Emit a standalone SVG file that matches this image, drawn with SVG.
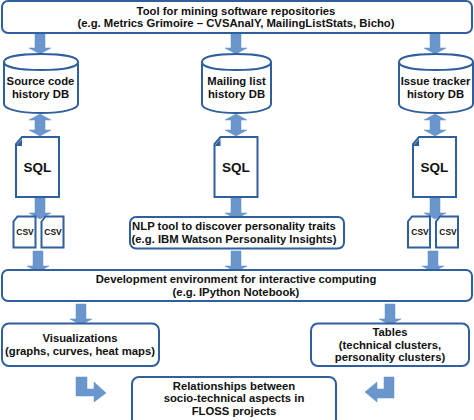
<svg xmlns="http://www.w3.org/2000/svg" width="474" height="420" viewBox="0 0 474 420">
<style>
.n{fill:#fff;stroke:#2f5f9e;stroke-width:2}
.l{fill:none;stroke:#2f5f9e;stroke-width:2}
.a{fill:#6a96cd;stroke:#5f8cc4;stroke-width:.5}
.f{fill:#2f5f9e}
text{font-family:"Liberation Sans",Arial,sans-serif;font-weight:bold;font-size:11.3px;fill:#111;text-anchor:middle}
.s{font-size:13.5px}
.c{font-size:8.5px}
</style>
<defs>
<path id="down" d="M-5 0H5V15H11L0 21L-11 15H-5Z"/>
<path id="dbl" d="M0 0L11 6H5V16H11L0 22L-11 16H-5V6H-11Z"/>
<path id="doc" d="M6 0H43V60H0V7Z"/>
<path id="csv" d="M4 0H22V31H0V5Z"/>
<path id="cyl" d="M0 8C0 3 15 0 37 0S74 3 74 8V50C74 55 59 59 37 59S0 55 0 50Z"/>
</defs>
<g id="connectors" class="a">
<use href="#down" x="40" y="33"/>
<use href="#down" x="236" y="33"/>
<use href="#down" x="435" y="33"/>
<use href="#dbl" x="40" y="114"/>
<use href="#dbl" x="236" y="114"/>
<use href="#dbl" x="435" y="114"/>
<use href="#down" x="40" y="198"/>
<use href="#down" x="236" y="198"/>
<use href="#down" x="435" y="198"/>
<use href="#down" x="38" y="251"/>
<use href="#down" x="236" y="251"/>
<use href="#down" x="433" y="251"/>
<use href="#down" x="81" y="304"/>
<use href="#down" x="390" y="304"/>
<path d="M76 377H87V389H94V382L106 393L94 402V396H76Z"/>
<path d="M394 377H384V389H377V382L365 392L377 402V398H394Z"/>
</g>
<g id="mining"><rect class="n" x="2" y="1" width="470" height="32" rx="6"/><text x="236" y="14.500">Tool for mining software repositories</text><text x="236" y="27">(e.g. Metrics Grimoire – CVSAnalY, MailingListStats, Bicho)</text></g>
<g id="db-source"><use class="n" href="#cyl" x="4" y="54"/><path class="l" d="M4 62C4 67 19 70 41 70S78 67 78 62"/><text x="40.500" y="85">Source code</text><text x="40.500" y="97.500">history DB</text></g>
<g id="db-mailing"><path class="n" d="M202 62C202 57 215 54 236.500 54S271 57 271 62V104C271 109 258 113 236.500 113S202 109 202 104Z"/><path class="l" d="M202 62C202 67 215 70 236.500 70S271 67 271 62"/><text x="236.500" y="85">Mailing list</text><text x="236.500" y="97.500">history DB</text></g>
<g id="db-issue"><use class="n" href="#cyl" x="399" y="54"/><path class="l" d="M399 62C399 67 414 70 436 70S473 67 473 62"/><text x="435.500" y="85">Issue tracker</text><text x="435.500" y="97.500">history DB</text></g>
<g id="sql-1"><use class="n" href="#doc" x="16" y="137"/><path class="f" d="M16 146L22 139V146Z"/><text class="s" x="37.500" y="172">SQL</text></g>
<g id="sql-2"><use class="n" href="#doc" x="214.500" y="137"/><path class="f" d="M214.500 146L220.500 139V146Z"/><text class="s" x="236" y="172">SQL</text></g>
<g id="sql-3"><use class="n" href="#doc" x="413" y="137"/><path class="f" d="M413 146L419 139V146Z"/><text class="s" x="434.500" y="172">SQL</text></g>
<g id="csv-1"><use class="n" href="#csv" x="13.500" y="216.500"/><text class="c" x="25" y="235">CSV</text></g>
<g id="csv-2"><use class="n" href="#csv" x="41.500" y="216.500"/><text class="c" x="53" y="235">CSV</text></g>
<g id="csv-3"><use class="n" href="#csv" x="408" y="216.500"/><text class="c" x="420" y="235">CSV</text></g>
<g id="csv-4"><use class="n" href="#csv" x="436" y="216.500"/><text class="c" x="448" y="235">CSV</text></g>
<g id="nlp"><rect class="n" x="130" y="217" width="214" height="31.500" rx="6"/><text x="234" y="230">NLP tool to discover personality traits</text><text x="234" y="243">(e.g. IBM Watson Personality Insights)</text></g>
<g id="dev"><rect class="n" x="2" y="270" width="470" height="31" rx="6"/><text x="236" y="283">Development environment for interactive computing</text><text x="236" y="296">(e.g. IPython Notebook)</text></g>
<g id="vis"><rect class="n" x="2" y="323.500" width="157" height="42.500" rx="7"/><text x="80" y="342">Visualizations</text><text x="80" y="354.500">(graphs, curves, heat maps)</text></g>
<g id="tables"><rect class="n" x="311" y="323.500" width="158" height="42.500" rx="7"/><text x="390" y="336">Tables</text><text x="390" y="348.500">(technical clusters,</text><text x="390" y="361">personality clusters)</text></g>
<g id="rel"><rect class="n" x="132" y="377" width="204" height="50" rx="7"/><text x="234" y="389.500">Relationships between</text><text x="234" y="402">socio-technical aspects in</text><text x="234" y="414.500">FLOSS projects</text></g>
</svg>
